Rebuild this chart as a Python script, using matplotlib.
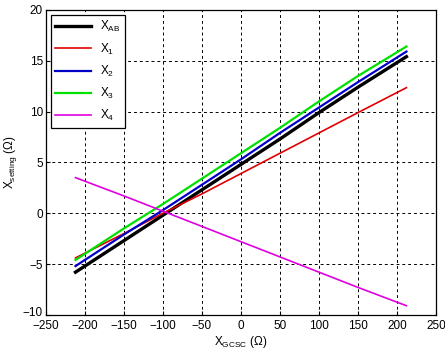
import numpy as np
import matplotlib
matplotlib.use("Agg")
import matplotlib.pyplot as plt
import matplotlib.transforms as mtransforms

plt.rcParams['font.family'] = ['Liberation Sans', 'DejaVu Sans']
plt.rcParams['mathtext.fontset'] = 'custom'
plt.rcParams['mathtext.rm'] = 'Liberation Sans'
plt.rcParams['mathtext.it'] = 'Liberation Sans'

# X_GCSC values (ohm)
x_gcsc = [-212, -150, -100, -50, 0, 50, 100, 150, 212]

# X_setting curves (ohm)
x_ab = [-5.8, -2.7, -0.2, 2.3, 4.8, 7.3, 9.9, 12.4, 15.4]
x_1 = [-4.4, -2.0, 0.0, 1.9, 3.9, 5.9, 7.9, 9.9, 12.35]
x_2 = [-5.2, -2.1, 0.3, 2.8, 5.3, 7.9, 10.4, 12.9, 15.9]
x_3 = [-4.6, -1.5, 0.9, 3.4, 5.9, 8.4, 11.0, 13.5, 16.4]
x_4 = [3.5, 1.7, 0.2, -1.3, -2.8, -4.3, -5.8, -7.3, -9.1]

series = [
    (x_ab, 'black', 2.4, r'X$_{\mathrm{AB}}$'),
    (x_1, '#e00000', 1.2, r'X$_{\mathrm{1}}$'),
    (x_2, '#0000c8', 1.6, r'X$_{\mathrm{2}}$'),
    (x_3, '#00e000', 1.6, r'X$_{\mathrm{3}}$'),
    (x_4, '#e000e0', 1.2, r'X$_{\mathrm{4}}$'),
]

fig = plt.figure(figsize=(4.45, 3.53), dpi=100)
ax = fig.add_axes([0.103, 0.108, 0.877, 0.864])

for y, c, lw, lab in series:
    ax.plot(x_gcsc, y, color=c, lw=lw, label=lab)

ax.set_xlim(-250, 250)
ax.set_ylim(-10, 20)
ax.set_xticks(np.arange(-250, 251, 50))
ax.set_yticks(np.arange(-10, 21, 5))
ax.grid(True, color='black', linestyle=(0, (3, 3)), linewidth=0.7)
ax.tick_params(direction='in', labelsize=8.5, length=3, width=0.8, pad=2)
ax.tick_params(axis='x', pad=4)
for s in ax.spines.values():
    s.set_linewidth(0.9)
# nudge the bottom y label up a bit so it clears the first x label
lab0 = ax.get_yticklabels()[0]
lab0.set_transform(lab0.get_transform() +
                   mtransforms.ScaledTranslation(0, 2.5 / 72, fig.dpi_scale_trans))

ax.set_xlabel(r'X$_{\mathrm{GCSC}}$ ($\Omega$)', fontsize=8.5, labelpad=1)
ax.set_ylabel(r'X$_{\mathrm{setting}}$ ($\Omega$)', fontsize=8.5)
ax.yaxis.set_label_coords(-0.07, 0.5)

leg = ax.legend(loc='upper left', fontsize=8.5, fancybox=False, framealpha=1,
                edgecolor='black', handlelength=3.0, labelspacing=0.6,
                borderaxespad=0.4)
leg.get_frame().set_linewidth(0.9)

fig.savefig('out.png', dpi=100)
